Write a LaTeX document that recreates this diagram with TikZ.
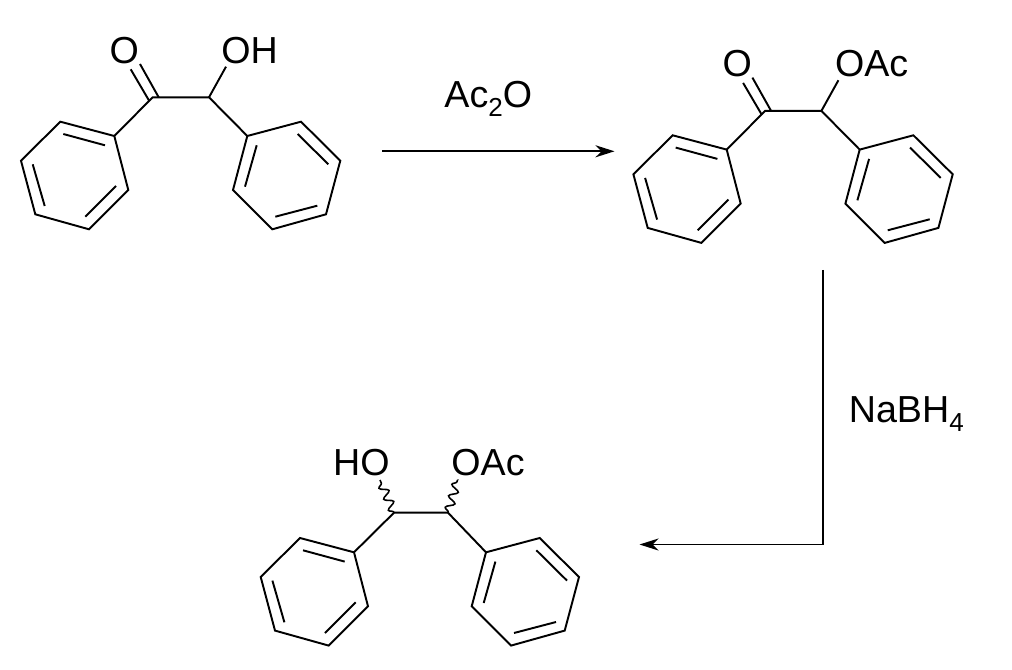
\documentclass[tikz,border=0pt]{standalone}
\usepackage{fontspec}
\setmainfont{Liberation Sans}
\usetikzlibrary{arrows.meta,decorations.pathmorphing}
\newcommand\lowered[1]{\raisebox{-2.5pt}{\fontsize{7.4pt}{8pt}\selectfont #1}}
\tikzset{
  bond/.style={line width=0.55pt,line join=miter},
  wavy/.style={line width=0.45pt,decorate,decoration={snake,amplitude=1.2pt,segment length=3.4pt,pre length=0.2pt,post length=0.2pt}},
  rxn/.style={line width=0.55pt,-{Stealth[length=1.9mm,width=1.2mm,inset=0.6mm]}},
  atom/.style={anchor=base,inner sep=0pt,font=\fontsize{10.7pt}{12pt}\selectfont},
  leftring/.pic={
    \draw[bond] (0,0) -- (-54,-14.3) -- (-93.3,24.7) -- (-79,78.3) -- (-25.3,93.3) -- (14,54) -- cycle;
    \draw[bond] (-51,-2) -- (-9.3,9.3);
    \draw[bond] (-81.6,28.3) -- (-69.6,70);
    \draw[bond] (-29,80.7) -- (1.7,50);
  },
  rightring/.pic={
    \draw[bond] (0,0) -- (53.7,-14.3) -- (93,24.7) -- (78.7,78.3) -- (25,93.3) -- (-14.3,54) -- cycle;
    \draw[bond] (9.4,9.3) -- (-2.3,50.7);
    \draw[bond] (50.4,-2) -- (81,28.3);
    \draw[bond] (28,80.7) -- (70,69.7);
  }
}
\begin{document}
\begin{tikzpicture}[x=0.01cm,y=-0.01cm]
  \useasboundingbox (0,0) rectangle (1012,670);

  % benzoin
  \coordinate (coA) at (152.7,97.3);
  \coordinate (chA) at (209,97.3);
  \coordinate (phA) at (114.3,136);
  \coordinate (phB) at (247.3,136);
  \coordinate (ohA) at (226,66.7);
  \node[atom] (oxoA) at (124.3,63.3) {O};
  \node[atom] (hydA) at (249.5,63.3) {OH};
  \pic at (phA) {leftring};
  \pic at (phB) {rightring};
  \draw[bond] (phA) -- (coA) -- (chA) -- (phB);
  \draw[bond] (chA) -- (ohA);
  \draw[bond] (130.7,69.3) -- (149.3,101);
  \draw[bond] (140,64) -- (158.7,97.3);

  % acetate
  \coordinate (coB) at (765.1,110.9);
  \coordinate (chB) at (821.4,110.9);
  \coordinate (phC) at (726.7,149.6);
  \coordinate (phD) at (859.7,149.6);
  \coordinate (oacB) at (838.4,80.3);
  \node[atom] (oxoB) at (737.3,76.3) {O};
  \node[atom] (acB) at (871.7,76.3) {OAc};
  \pic at (phC) {leftring};
  \pic at (phD) {rightring};
  \draw[bond] (phC) -- (coB) -- (chB) -- (phD);
  \draw[bond] (chB) -- (oacB);
  \draw[bond] (743.1,82.9) -- (761.7,114.6);
  \draw[bond] (752.4,77.6) -- (771.1,110.9);

  % diol monoacetate
  \coordinate (chC) at (394,512.7);
  \coordinate (chD) at (448,512.7);
  \coordinate (phE) at (354,552.3);
  \coordinate (phF) at (486,552.3);
  \coordinate (ohC) at (380,480);
  \coordinate (oacD) at (457.5,480);
  \node[atom] (hydC) at (361.3,475) {HO};
  \node[atom] (acD) at (488,475) {OAc};
  \pic at (phE) {leftring};
  \pic at (phF) {rightring};
  \draw[bond] (phE) -- (chC) -- (chD) -- (phF);
  \draw[wavy] (chC) -- (ohC);
  \draw[wavy] (chD) -- (oacD);

  % reactions
  \coordinate (arrA) at (382,151.3);
  \coordinate (arrB) at (614.5,151.3);
  \coordinate (arrC) at (823.3,270);
  \coordinate (arrD) at (823.3,544.5);
  \coordinate (arrE) at (639.5,544.5);
  \draw[rxn] (arrA) -- (arrB);
  \draw[rxn] (arrC) -- (arrD) -- (arrE);
  \node[atom] (acan) at (488.3,108) {Ac\lowered{2}O};
  \node[atom] (boro) at (906.3,422.7) {NaBH\lowered{4}};
\end{tikzpicture}
\end{document}
